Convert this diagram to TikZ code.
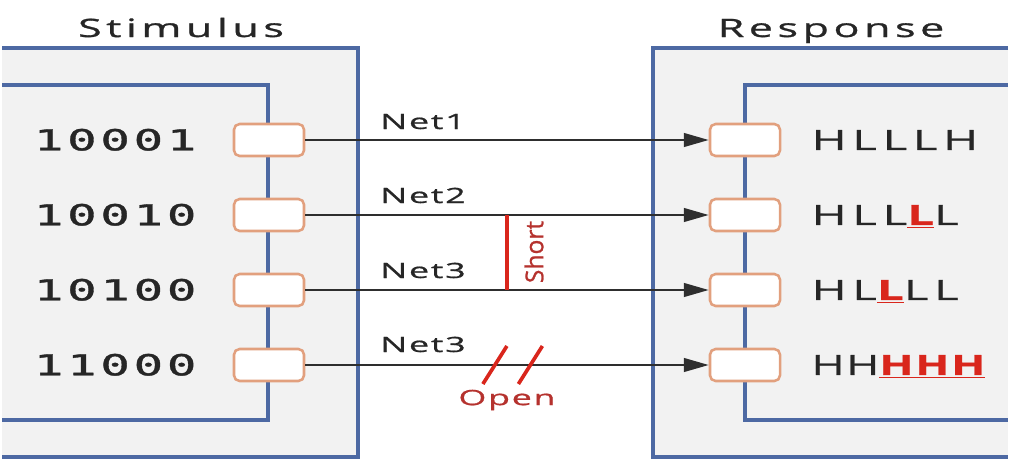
\documentclass[tikz,border=0pt]{standalone}
\usepackage{fontspec}
\usetikzlibrary{positioning, arrows.meta}
\newfontfamily\lblfont[FakeStretch=1.7, LetterSpace=8, FakeBold=0.8]{Open Sans}
\newfontfamily\titlefont[FakeStretch=1.7, LetterSpace=18, FakeBold=1.1]{Open Sans}
\newfontfamily\respfont[FakeStretch=1.7, LetterSpace=20, FakeBold=0.8]{Open Sans}
\newfontfamily\tightfont[FakeStretch=1.6, LetterSpace=6, FakeBold=0.8]{Open Sans}
\newfontfamily\bitfont[FakeStretch=1.7, LetterSpace=13, FakeBold=1.2]{DejaVu Sans Mono}
\newfontfamily\notefont[FakeBold=1]{Open Sans}
\definecolor{framecol}{HTML}{4D69A3}
\definecolor{panelcol}{HTML}{F2F2F2}
\definecolor{padcol}{HTML}{E2A07E}
\definecolor{wirecol}{HTML}{2E2E2E}
\definecolor{textcol}{HTML}{262626}
\definecolor{faultred}{HTML}{D9261C}
\definecolor{notered}{HTML}{B5322E}
\newcommand{\badbit}[1]{{\color{faultred}\bfseries\underline{#1}}}

\begin{document}
\begin{tikzpicture}[
        x=0.025cm, y=-0.025cm,
        frame/.style={draw=framecol, line width=2.2pt},
        pad/.style={draw=padcol, line width=1.8pt, fill=white, rounded corners=4pt,
            minimum width=1.75cm, minimum height=0.8cm},
        wire/.style={draw=wirecol, line width=1.6pt, -{Triangle[length=0.62cm, width=0.34cm]}},
        title/.style={anchor=base, text=textcol, font=\titlefont\fontsize{18}{21}\selectfont},
        bits/.style={inner sep=0pt, text height=14.6pt, text depth=0pt, text=textcol,
            font=\bitfont\fontsize{20.5}{23}\selectfont},
        resp/.style={inner sep=0pt, text height=14.2pt, text depth=0pt, text=textcol,
            font=\respfont\fontsize{19.9}{22}\selectfont},
        netlbl/.style={anchor=base west, inner sep=0pt, text=textcol,
            font=\lblfont\fontsize{15}{18}\selectfont},
        fault/.style={draw=faultred, line width=2.6pt},
        faultlbl/.style={inner sep=0pt, text=notered, font=\lblfont\fontsize{15}{18}\selectfont},
    ]
    \useasboundingbox (0,0) rectangle (1012,460);

    % Stimulus side
    \fill[panelcol] (2,48) rectangle (358,457);
    \draw[frame] (2,48) -- (358,48) -- (358,457) -- (2,457);
    \draw[frame] (2,85) -- (268,85) -- (268,420) -- (2,420);
    \node[title] (stim) at (181,37) {Stimulus};

    % Response side
    \fill[panelcol] (653,48) rectangle (1008,457);
    \draw[frame] (1008,48) -- (653,48) -- (653,457) -- (1008,457);
    \draw[frame] (1008,85) -- (745,85) -- (745,420) -- (1008,420);
    \node[title] (resp) at (831,37) {Response};

    % Pads
    \node[pad] (lp1) at (269,140) {};
    \node[pad] (lp2) at (269,215) {};
    \node[pad] (lp3) at (269,290) {};
    \node[pad] (lp4) at (269,365) {};
    \node[pad] (rp1) at (745,140) {};
    \node[pad] (rp2) at (745,215) {};
    \node[pad] (rp3) at (745,290) {};
    \node[pad] (rp4) at (745,365) {};

    % Applied patterns
    \node[bits, left=0.9cm of lp1] (in1) {10001};
    \node[bits, left=0.9cm of lp2] (in2) {10010};
    \node[bits, left=0.9cm of lp3] (in3) {10100};
    \node[bits, left=0.9cm of lp4] (in4) {11000};

    % Measured patterns
    \node[resp, right=0.75cm of rp1] (out1) {HLLLH};
    \node[resp, right=0.75cm of rp2] (out2) {HLL\badbit{L}L};
    \node[resp, right=0.75cm of rp3] (out3) {HL\badbit{L}LL};
    \node[resp, right=0.75cm of rp4, font=\tightfont\fontsize{19.9}{22}\selectfont] (out4) {HH\badbit{HHH}};

    % Nets
    \draw[wire] (lp1) -- (rp1);
    \draw[wire] (lp2) -- coordinate[pos=0.5] (sa) (rp2);
    \draw[wire] (lp3) -- coordinate[pos=0.5] (sb) (rp3);
    \draw[wire] (lp4) -- coordinate[pos=0.47] (oa) coordinate[pos=0.558] (ob) (rp4);
    \node[netlbl] (net1) at (380,129) {Net1};
    \node[netlbl] (net2) at (380,203) {Net2};
    \node[netlbl] (net3) at (380,278) {Net3};
    \node[netlbl] (net4) at (380,352) {Net3};

    % Faults
    \draw[fault] (sa) -- (sb);
    \node[faultlbl, font=\notefont\fontsize{17.5}{20}\selectfont, rotate=90] (short) at (534,252) {Short};
    \draw[fault] ([shift={(-12,19)}]oa) -- ([shift={(12,-19)}]oa);
    \draw[fault] ([shift={(-12,19)}]ob) -- ([shift={(12,-19)}]ob);
    \node[faultlbl] (open) at (507,400) {Open};
\end{tikzpicture}
\end{document}
